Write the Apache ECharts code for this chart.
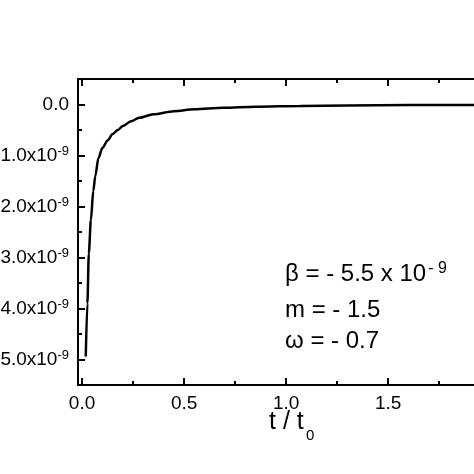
<!DOCTYPE html>
<html>
<head>
<meta charset="utf-8">
<script src="https://cdn.jsdelivr.net/npm/echarts@6/dist/echarts.min.js"></script>
<style>
  html, body { margin: 0; padding: 0; background: #fff; }
  #chart { width: 474px; height: 474px; }
</style>
</head>
<body>
<div id="chart"></div>
<script>
// curve: t / t0 and value
var tValues = [0.018, 0.026, 0.033, 0.043, 0.055, 0.065, 0.08, 0.1, 0.126, 0.15, 0.175, 0.2, 0.24, 0.28, 0.35, 0.45, 0.55, 0.69, 0.85, 1.07, 1.3, 1.6, 2.0, 2.2];
var yValues = [-4.94e-9, -3.9e-9, -2.92e-9, -2.27e-9, -1.69e-9, -1.4e-9, -1.05e-9, -0.85e-9, -0.7e-9, -0.58e-9, -0.5e-9, -0.42e-9, -0.33e-9, -0.26e-9, -0.19e-9, -0.13e-9, -0.095e-9, -0.065e-9, -0.045e-9, -0.027e-9, -0.018e-9, -0.012e-9, -0.008e-9, -0.006e-9];

// ticks
var xMajor = [0, 0.5, 1.0, 1.5, 2.0];
var xMinor = [0.25, 0.75, 1.25, 1.75];
var yMajor = [0, -1e-9, -2e-9, -3e-9, -4e-9, -5e-9];
var yMinor = [0.5e-9, -0.5e-9, -1.5e-9, -2.5e-9, -3.5e-9, -4.5e-9];

var xRange = [-0.02, 2.2];
var yRange = [-5.5e-9, 0.5e-9];

var font = 'Liberation Sans, Arial, sans-serif';

var chart = echarts.init(document.getElementById('chart'));

function xAxisDef(pos, ticks, len, labels) {
  return {
    type: 'value',
    position: pos,
    min: xRange[0],
    max: xRange[1],
    axisLine: { show: true, onZero: false, lineStyle: { color: '#000', width: 2 } },
    axisTick: { show: true, inside: true, length: len, customValues: ticks, lineStyle: { color: '#000', width: 2 } },
    axisLabel: {
      show: labels,
      customValues: ticks,
      margin: 9,
      color: '#000',
      fontSize: 19,
      fontFamily: font,
      formatter: function (v) { return v.toFixed(1); }
    },
    splitLine: { show: false }
  };
}

function yAxisDef(ticks, len, labels) {
  return {
    type: 'value',
    position: 'left',
    min: yRange[0],
    max: yRange[1],
    axisLine: { show: true, onZero: false, lineStyle: { color: '#000', width: 2 } },
    axisTick: { show: true, inside: true, length: len, customValues: ticks, lineStyle: { color: '#000', width: 2 } },
    axisLabel: {
      show: labels,
      customValues: ticks,
      margin: 9,
      color: '#000',
      fontSize: 19,
      fontFamily: font,
      formatter: function (v) {
        var n = Math.round(v / 1e-10) / 10;
        if (n === 0) return '{a|0.0}';
        return '{a|' + n.toFixed(1) + 'x10}{s|-9}';
      },
      rich: {
        a: { fontSize: 19, fontFamily: font, color: '#000', lineHeight: 21 },
        s: { fontSize: 13, fontFamily: font, color: '#000', verticalAlign: 'top', lineHeight: 13, padding: [0, 0, 8, 0] }
      }
    },
    splitLine: { show: false }
  };
}

var option = {
  animation: false,
  backgroundColor: '#fff',
  // plot box runs past the right edge of the picture, as in the reference
  grid: { left: 78, top: 79, right: -57, bottom: 89, containLabel: false, outerBoundsMode: 'none' },
  xAxis: [
    xAxisDef('bottom', xMajor, 7, true),
    xAxisDef('bottom', xMinor, 4, false),
    xAxisDef('top', xMajor, 7, false),
    xAxisDef('top', xMinor, 4, false)
  ],
  yAxis: [
    yAxisDef(yMajor, 7, true),
    yAxisDef(yMinor, 4, false)
  ],
  series: [{
    type: 'line',
    xAxisIndex: 0,
    yAxisIndex: 0,
    data: tValues.map(function (t, i) { return [t, yValues[i]]; }),
    showSymbol: false,
    smooth: 0.3,
    smoothMonotone: 'x',
    lineStyle: { color: '#000', width: 2.5 }
  }],
  graphic: [
    { type: 'text', left: 269, top: 410, style: { text: 't / t', font: '25px ' + font, fill: '#000' } },
    { type: 'text', left: 306, top: 428, style: { text: '0', font: '15px ' + font, fill: '#000' } },
    {
      type: 'text', left: 285, top: 261,
      style: {
        text: '{a|\u03b2 = - 5.5 x 10}{s|- 9}',
        fill: '#000',
        rich: {
          a: { fontSize: 24, fontFamily: font, color: '#000', lineHeight: 27 },
          s: { fontSize: 16, fontFamily: font, color: '#000', verticalAlign: 'top', lineHeight: 16, padding: [0, 0, 12, 2] }
        }
      }
    },
    { type: 'text', left: 285, top: 298, style: { text: 'm = - 1.5', font: '24px ' + font, fill: '#000' } },
    { type: 'text', left: 285, top: 329, style: { text: '\u03c9 = - 0.7', font: '24px ' + font, fill: '#000' } }
  ]
};

chart.setOption(option);
window.addEventListener('resize', function () { chart.resize(); });
</script>
</body>
</html>
